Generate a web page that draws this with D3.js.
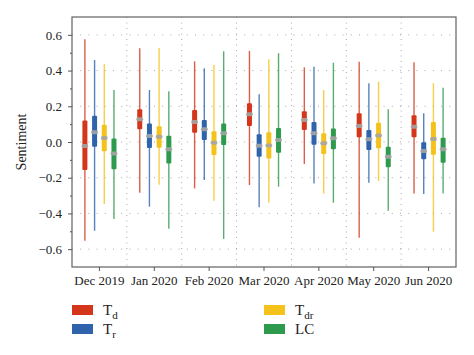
<!DOCTYPE html>
<html>
<head>
<meta charset="utf-8">
<script src="https://cdn.jsdelivr.net/npm/d3@7"></script>
<style>
  body { margin: 0; background: #fff; }
  svg { display: block; }
  svg text { font-family: "Liberation Serif", "DejaVu Serif", serif; }
</style>
</head>
<body>
<div id="chart"></div>
<script>
// Months along the x axis
const months = ['Dec 2019', 'Jan 2020', 'Feb 2020', 'Mar 2020', 'Apr 2020', 'May 2020', 'Jun 2020'];
const seriesKeys = ['Td', 'Tr', 'Tdr', 'LC'];

// [min, q1, median, q3, max] for each month
const tdStats = [
    [-0.553, -0.157, -0.022, 0.120, 0.575],
    [-0.284, 0.071, 0.127, 0.183, 0.525],
    [-0.260, 0.052, 0.112, 0.179, 0.452],
    [-0.241, 0.090, 0.155, 0.217, 0.510],
    [-0.123, 0.067, 0.123, 0.172, 0.418],
    [-0.536, 0.026, 0.090, 0.161, 0.450],
    [-0.288, 0.026, 0.086, 0.150, 0.446]
];
const trStats = [
    [-0.497, -0.026, 0.054, 0.147, 0.459],
    [-0.362, -0.034, 0.034, 0.103, 0.291],
    [-0.213, 0.011, 0.071, 0.123, 0.413],
    [-0.366, -0.082, -0.021, 0.043, 0.267],
    [-0.232, -0.015, 0.049, 0.112, 0.422],
    [-0.228, -0.045, 0.015, 0.067, 0.329],
    [-0.291, -0.097, -0.050, -0.002, 0.161]
];
const tdrStats = [
    [-0.347, -0.052, 0.022, 0.097, 0.435],
    [-0.239, -0.032, 0.030, 0.088, 0.527],
    [-0.329, -0.073, -0.004, 0.060, 0.431],
    [-0.340, -0.093, -0.019, 0.054, 0.463],
    [-0.288, -0.067, -0.007, 0.049, 0.291],
    [-0.218, -0.035, 0.037, 0.108, 0.338],
    [-0.502, -0.071, 0.017, 0.112, 0.329]
];
const lcStats = [
    [-0.431, -0.153, -0.064, 0.019, 0.291],
    [-0.486, -0.120, -0.041, 0.035, 0.284],
    [-0.543, -0.017, 0.049, 0.103, 0.508],
    [-0.250, -0.060, 0.011, 0.078, 0.497],
    [-0.340, -0.041, 0.021, 0.075, 0.444],
    [-0.385, -0.142, -0.082, -0.026, 0.183],
    [-0.288, -0.116, -0.041, 0.024, 0.304]
];
const yTicks = [-0.6, -0.4, -0.2, 0.0, 0.2, 0.4, 0.6];

const colors = { Td: '#d3361b', Tr: '#2f63ab', Tdr: '#f5c21c', LC: '#2e9a4e' };
const statsBySeries = { Td: tdStats, Tr: trStats, Tdr: tdrStats, LC: lcStats };

const FONT = '"Liberation Serif", "DejaVu Serif", serif';
const WIDTH = 474;
const HEIGHT = 355;
const margin = { top: 17, right: 18, bottom: 88, left: 72 };
const innerW = WIDTH - margin.left - margin.right;
const innerH = HEIGHT - margin.top - margin.bottom;

const svg = d3.select('#chart')
    .append('svg')
    .attr('width', WIDTH)
    .attr('height', HEIGHT)
    .attr('font-family', FONT);

const g = svg.append('g')
    .attr('transform', `translate(${margin.left},${margin.top})`);

// Scales
const xScale = d3.scaleBand()
    .domain(months)
    .range([0, innerW])
    .padding(0);

const step = xScale.bandwidth();
const xInner = d3.scalePoint()
    .domain(seriesKeys)
    .range([-0.265 * step, 0.265 * step]);

const yScale = d3.scaleLinear()
    .domain([-0.7, 0.7])
    .range([innerH, 0]);

// Dotted grid
g.selectAll('.hgrid')
    .data(yTicks)
    .enter()
    .append('line')
    .attr('x1', 0)
    .attr('x2', innerW)
    .attr('y1', d => yScale(d))
    .attr('y2', d => yScale(d))
    .attr('stroke', '#a8a8a8')
    .attr('stroke-width', 1)
    .attr('stroke-dasharray', '1,7.2');

g.selectAll('.vgrid')
    .data(months.slice(1))
    .enter()
    .append('line')
    .attr('x1', d => xScale(d))
    .attr('x2', d => xScale(d))
    .attr('y1', 0)
    .attr('y2', innerH)
    .attr('stroke', '#a8a8a8')
    .attr('stroke-width', 1)
    .attr('stroke-dasharray', '1,4.5');

// Boxes
const boxData = [];
seriesKeys.forEach(k => {
    statsBySeries[k].forEach((s, i) => {
        boxData.push({ key: k, month: months[i], min: s[0], q1: s[1], med: s[2], q3: s[3], max: s[4] });
    });
});

const cx = d => xScale(d.month) + step / 2 + xInner(d.key);

g.selectAll('.whisker')
    .data(boxData)
    .enter()
    .append('line')
    .attr('x1', cx)
    .attr('x2', cx)
    .attr('y1', d => yScale(d.max))
    .attr('y2', d => yScale(d.min))
    .attr('stroke', d => colors[d.key])
    .attr('stroke-opacity', 0.8)
    .attr('stroke-width', 1.4);

const BOX_W = 5;
g.selectAll('.box')
    .data(boxData)
    .enter()
    .append('rect')
    .attr('x', d => cx(d) - BOX_W / 2)
    .attr('y', d => yScale(d.q3))
    .attr('width', BOX_W)
    .attr('height', d => yScale(d.q1) - yScale(d.q3))
    .attr('rx', 1)
    .attr('fill', d => colors[d.key]);

g.selectAll('.median')
    .data(boxData)
    .enter()
    .append('rect')
    .attr('x', d => cx(d) - 3.5)
    .attr('y', d => yScale(d.med) - 2)
    .attr('width', 7)
    .attr('height', 4)
    .attr('rx', 2)
    .attr('fill', '#a5a5a5')
    .attr('fill-opacity', 0.9);

// Frame
g.append('rect')
    .attr('x', 0)
    .attr('y', 0)
    .attr('width', innerW)
    .attr('height', innerH)
    .attr('fill', 'none')
    .attr('stroke', '#6e6e6e')
    .attr('stroke-width', 1.3);

// Axes
const yAxis = g.append('g')
    .call(d3.axisLeft(yScale)
        .tickValues(yTicks)
        .tickFormat(d3.format('.1f'))
        .tickSize(4)
        .tickPadding(6));

const yMinor = g.append('g')
    .call(d3.axisLeft(yScale)
        .tickValues([-0.5, -0.3, -0.1, 0.1, 0.3, 0.5])
        .tickFormat('')
        .tickSize(2));

const xAxis = g.append('g')
    .attr('transform', `translate(0,${innerH})`)
    .call(d3.axisBottom(xScale)
        .tickSize(4)
        .tickPadding(5));

[yAxis, yMinor, xAxis].forEach(a => {
    a.attr('font-family', FONT).attr('font-size', 13);
    a.select('.domain').remove();
    a.selectAll('line').attr('stroke', '#555');
    a.selectAll('text').attr('fill', '#222');
});

// Y label
svg.append('text')
    .attr('transform', `translate(26,${margin.top + yScale(0)}) rotate(-90)`)
    .attr('text-anchor', 'middle')
    .attr('fill', '#222')
    .attr('font-size', 14)
    .text('Sentiment');

// Legend
const legendItems = [
    { key: 'Td', main: 'T', sub: 'd', x: 72, y: 305 },
    { key: 'Tr', main: 'T', sub: 'r', x: 72, y: 324 },
    { key: 'Tdr', main: 'T', sub: 'dr', x: 264, y: 305 },
    { key: 'LC', main: 'LC', sub: '', x: 264, y: 324 }
];

const legend = svg.selectAll('.legend')
    .data(legendItems)
    .enter()
    .append('g')
    .attr('transform', d => `translate(${d.x},${d.y})`);

legend.append('rect')
    .attr('width', 21)
    .attr('height', 10)
    .attr('fill', d => colors[d.key]);

const ltext = legend.append('text')
    .attr('x', 31)
    .attr('y', 10)
    .attr('fill', '#222')
    .attr('font-size', 15);

ltext.append('tspan').text(d => d.main);
ltext.append('tspan')
    .attr('dy', 4)
    .attr('font-size', 11)
    .text(d => d.sub);
</script>
</body>
</html>
